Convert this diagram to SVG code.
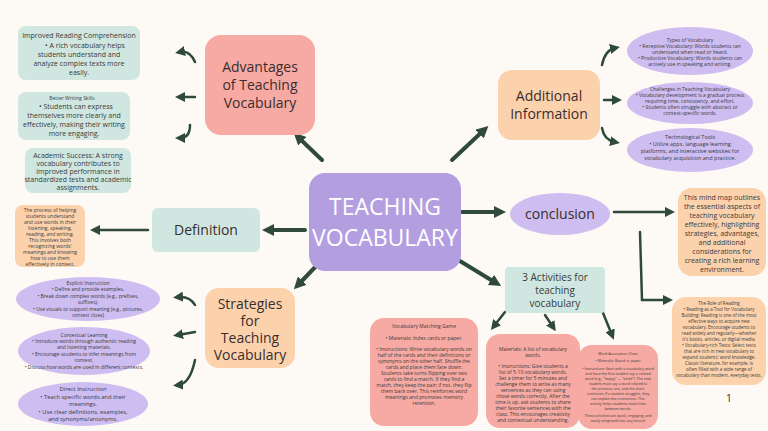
<svg xmlns="http://www.w3.org/2000/svg" width="768" height="431" viewBox="0 0 768 431">
<defs>
<style>
text{font-family:"Open Sans","Liberation Sans",sans-serif;fill:#3a3a3a;text-anchor:middle}
.big{font-size:14px;fill:#3a2d2d}
.s{font-size:7px}
.xs{font-size:5px}
.c{stroke:#2f4a3a;stroke-width:4;fill:none;stroke-linecap:round}
.t{stroke:#2f4a3a;stroke-width:2.5;fill:none;stroke-linecap:round}
.teal{fill:#cfe7e0}.pur{fill:#cdbdf1}.peach{fill:#fcd2ad}.pink{fill:#f6aaa3}
</style>
<marker id="ah" viewBox="0 0 10 10" refX="5" refY="5" markerWidth="3" markerHeight="3" orient="auto"><path d="M0,0L10,5L0,10z" fill="#2f4a3a"/></marker>
<marker id="ah2" viewBox="0 0 10 10" refX="5" refY="5" markerWidth="4" markerHeight="4" orient="auto"><path d="M0,0L10,5L0,10z" fill="#2f4a3a"/></marker>
</defs>
<rect width="768" height="431" fill="#fdf9f4"/>
<g id="connectors">
<path class="c" d="M322,160L298,137" marker-end="url(#ah)"/>
<path class="c" d="M452,160L484,130" marker-end="url(#ah)"/>
<path class="c" d="M305,230L268,230" marker-end="url(#ah)"/>
<path class="c" d="M462,212L500,212" marker-end="url(#ah)"/>
<path class="c" d="M320,262L298,285" marker-end="url(#ah)"/>
<path class="c" d="M455,258L496,283" marker-end="url(#ah)"/>
<path class="t" d="M195,62Q190,50 180,52" marker-end="url(#ah2)"/>
<path class="t" d="M195,97L180,97" marker-end="url(#ah2)"/>
<path class="t" d="M190,125Q190,138 180,138" marker-end="url(#ah2)"/>
<path class="t" d="M602,65Q605,50 615,48" marker-end="url(#ah2)"/>
<path class="t" d="M604,100L617,100" marker-end="url(#ah2)"/>
<path class="t" d="M602,128Q604,140 615,142" marker-end="url(#ah2)"/>
<path class="t" d="M148,230L95,230" marker-end="url(#ah2)"/>
<path class="t" d="M195,305Q190,296 178,297" marker-end="url(#ah2)"/>
<path class="t" d="M195,332L178,335" marker-end="url(#ah2)"/>
<path class="t" d="M195,360Q190,384 178,385" marker-end="url(#ah2)"/>
<path class="t" d="M614,212L670,212" marker-end="url(#ah2)"/>
<path class="t" d="M640,232L642,300L668,300" marker-end="url(#ah2)"/>
<path class="t" d="M505,312L494,326" marker-end="url(#ah2)"/>
<path class="t" d="M545,315L553,327" marker-end="url(#ah2)"/>
<path class="t" d="M603,313L612,335" marker-end="url(#ah2)"/>
</g>
<g id="center"><rect x="309" y="173" width="152" height="98" rx="16" fill="#b39ee0"/>
<text x="385" y="215" style="font-size:23px;fill:#fff">TEACHING</text><text x="385" y="246" style="font-size:23px;fill:#fff">VOCABULARY</text></g>
<g id="advantages"><rect x="205" y="35" width="110" height="100" rx="16" class="pink"/>
<text class="big" x="260" y="72">Advantages</text><text class="big" x="260" y="90">of Teaching</text><text class="big" x="260" y="108">Vocabulary</text></g>
<g id="additional"><rect x="498" y="70" width="102" height="70" rx="14" class="peach"/>
<text class="big" x="549" y="101">Additional</text><text class="big" x="549" y="119">Information</text></g>
<g id="definition"><rect x="152" y="208" width="108" height="44" rx="6" class="teal"/><text class="big" x="206" y="235">Definition</text></g>
<g id="conclusion"><ellipse cx="560" cy="214" rx="50" ry="21" class="pur"/><text class="big" x="560" y="219">conclusion</text></g>
<g id="strategies"><rect x="205" y="288" width="90" height="80" rx="14" class="peach"/>
<text class="big" x="250" y="309">Strategies</text><text class="big" x="250" y="326">for</text><text class="big" x="250" y="343">Teaching</text><text class="big" x="250" y="360">Vocabulary</text></g>
<g id="activities"><rect x="505" y="267" width="100" height="46" rx="4" class="teal"/>
<text x="555" y="281" style="font-size:10px">3 Activities for</text><text x="555" y="294" style="font-size:10px">teaching</text><text x="555" y="307" style="font-size:10px">vocabulary</text></g>
<g id="adv1"><rect x="18" y="26" width="122" height="54" rx="8" class="teal"/>
<text class="s" x="79" y="38">Improved Reading Comprehension</text><text class="s" x="85" y="48">• A rich vocabulary helps</text><text class="s" x="79" y="57">students understand and</text><text class="s" x="79" y="66">analyze complex texts more</text><text class="s" x="79" y="75">easily.</text></g>
<g id="adv2"><rect x="18" y="92" width="112" height="48" rx="8" class="teal"/>
<text class="xs" x="72" y="100">Better Writing Skills</text><text class="s" x="76" y="109">• Students can express</text><text class="s" x="74" y="118">themselves more clearly and</text><text class="s" x="74" y="127">effectively, making their writing</text><text class="s" x="74" y="136">more engaging.</text></g>
<g id="adv3"><rect x="25" y="148" width="106" height="45" rx="8" class="teal"/>
<text class="s" x="78" y="158">Academic Success: A strong</text><text class="s" x="78" y="166">vocabulary contributes to</text><text class="s" x="78" y="174">improved performance in</text><text class="s" x="78" y="182">standardized tests and academic</text><text class="s" x="78" y="190">assignments.</text></g>
<g id="deftext"><rect x="15" y="205" width="70" height="62" rx="8" class="peach"/>
<g class="xs"><text x="50" y="212">The process of helping</text><text x="50" y="218">students understand</text><text x="50" y="224">and use words in their</text><text x="50" y="230">listening, speaking,</text><text x="50" y="236">reading, and writing.</text><text x="50" y="242">This involves both</text><text x="50" y="248">recognizing words'</text><text x="50" y="254">meanings and knowing</text><text x="50" y="260">how to use them</text><text x="50" y="266">effectively in context.</text></g></g>
<g id="str1"><ellipse cx="88" cy="299" rx="72" ry="22" class="pur"/>
<g class="xs"><text x="88" y="285">Explicit Instruction</text><text x="88" y="291">• Define and provide examples.</text><text x="88" y="298">• Break down complex words (e.g., prefixes,</text><text x="88" y="304">suffixes).</text><text x="88" y="311">• Use visuals to support meaning (e.g., pictures,</text><text x="88" y="317">context clues)</text></g></g>
<g id="str2"><ellipse cx="84" cy="351" rx="66" ry="24" class="pur"/>
<g class="xs"><text x="84" y="337">Contextual Learning</text><text x="84" y="343">• Introduce words through authentic reading</text><text x="84" y="349">and listening materials.</text><text x="84" y="356">• Encourage students to infer meanings from</text><text x="84" y="362">context.</text><text x="84" y="369">• Discuss how words are used in different contexts.</text></g></g>
<g id="str3"><ellipse cx="83" cy="404" rx="65" ry="22" class="pur"/>
<g style="font-size:5.8px"><text x="83" y="391">Direct Instruction</text><text x="83" y="399">• Teach specific words and their</text><text x="83" y="406">meanings.</text><text x="83" y="414">• Use clear definitions, examples,</text><text x="83" y="421">and synonyms/antonyms.</text></g></g>
<g id="add1"><ellipse cx="690" cy="51" rx="63" ry="24" class="pur"/>
<g class="xs"><text x="690" y="42">Types of Vocabulary</text><text x="690" y="48">• Receptive Vocabulary: Words students can</text><text x="690" y="54">understand when read or heard.</text><text x="690" y="60">• Productive Vocabulary: Words students can</text><text x="690" y="66">actively use in speaking and writing.</text></g></g>
<g id="add2"><ellipse cx="690" cy="103" rx="63" ry="21" class="pur"/>
<g class="xs"><text x="690" y="91">Challenges in Teaching Vocabulary</text><text x="690" y="97">• Vocabulary development is a gradual process</text><text x="690" y="103">requiring time, consistency, and effort.</text><text x="690" y="109">• Students often struggle with abstract or</text><text x="690" y="115">context-specific words.</text></g></g>
<g id="add3"><ellipse cx="690" cy="150" rx="63" ry="22" class="pur"/>
<g style="font-size:5.5px"><text x="690" y="139">Technological Tools</text><text x="690" y="146">• Utilize apps, language learning</text><text x="690" y="153">platforms, and interactive websites for</text><text x="690" y="160">vocabulary acquisition and practice.</text></g></g>
<g id="conctext"><rect x="678" y="188" width="88" height="88" rx="14" class="peach"/>
<g class="s"><text x="722" y="200">This mind map outlines</text><text x="722" y="209">the essential aspects of</text><text x="722" y="218">teaching vocabulary</text><text x="722" y="227">effectively, highlighting</text><text x="722" y="236">strategies, advantages,</text><text x="722" y="245">and additional</text><text x="722" y="254">considerations for</text><text x="722" y="263">creating a rich learning</text><text x="722" y="272">environment.</text></g></g>
<g id="reading"><rect x="672" y="297" width="94" height="88" rx="14" class="peach"/>
<g style="font-size:4.5px"><text x="719" y="305">The Role of Reading</text><text x="719" y="311">• Reading as a Tool for Vocabulary</text><text x="719" y="317">Building: Reading is one of the most</text><text x="719" y="323">effective ways to acquire new</text><text x="719" y="329">vocabulary. Encourage students to</text><text x="719" y="335">read widely and regularly—whether</text><text x="719" y="341">it's books, articles, or digital media.</text><text x="719" y="347">• Vocabulary-rich Texts: Select texts</text><text x="719" y="353">that are rich in new vocabulary to</text><text x="719" y="359">expand students' word knowledge.</text><text x="719" y="365">Classic literature, for example, is</text><text x="719" y="371">often filled with a wide range of</text><text x="719" y="377">vocabulary than modern, everyday texts.</text></g>
<text x="729" y="402" style="font-size:11px">1</text></g>
<g id="act1"><rect x="370" y="318" width="108" height="108" rx="14" class="pink"/>
<g class="xs"><text x="424" y="328">Vocabulary Matching Game</text><text x="424" y="340">• Materials: Index cards or paper.</text><text x="424" y="351">• Instructions: Write vocabulary words on</text><text x="424" y="357">half of the cards and their definitions or</text><text x="424" y="363">synonyms on the other half. Shuffle the</text><text x="424" y="369">cards and place them face down.</text><text x="424" y="375">Students take turns flipping over two</text><text x="424" y="381">cards to find a match. If they find a</text><text x="424" y="387">match, they keep the pair; if not, they flip</text><text x="424" y="393">them back over. This reinforces word</text><text x="424" y="399">meanings and promotes memory</text><text x="424" y="405">retention.</text></g></g>
<g id="act2"><rect x="486" y="334" width="94" height="94" rx="14" class="pink"/>
<g class="xs"><text x="533" y="351">Materials: A list of vocabulary</text><text x="533" y="357">words.</text><text x="533" y="368">• Instructions: Give students a</text><text x="533" y="374">list of 5-10 vocabulary words.</text><text x="533" y="380">Set a timer for 5 minutes and</text><text x="533" y="386">challenge them to write as many</text><text x="533" y="392">sentences as they can using</text><text x="533" y="398">those words correctly. After the</text><text x="533" y="404">time is up, ask students to share</text><text x="533" y="410">their favorite sentences with the</text><text x="533" y="416">class. This encourages creativity</text><text x="533" y="422">and contextual understanding.</text></g></g>
<g id="act3"><rect x="578" y="345" width="80" height="84" rx="14" class="pink"/>
<g style="font-size:3.6px"><text x="618" y="355">Word Association Chain</text><text x="618" y="362">• Materials: Board or paper</text><text x="618" y="370">• Instructions: Start with a vocabulary word</text><text x="618" y="375">and have the first student say a related</text><text x="618" y="380">word (e.g., "happy" → "smile"). The next</text><text x="618" y="385">student must say a word related to</text><text x="618" y="390">the previous one, and the chain</text><text x="618" y="395">continues. If a student struggles, they</text><text x="618" y="400">can explain the connection. This</text><text x="618" y="405">activity helps students make links</text><text x="618" y="410">between words.</text><text x="618" y="417">These activities are quick, engaging, and</text><text x="618" y="422">easily integrated into any lesson!</text></g></g>
</svg>
